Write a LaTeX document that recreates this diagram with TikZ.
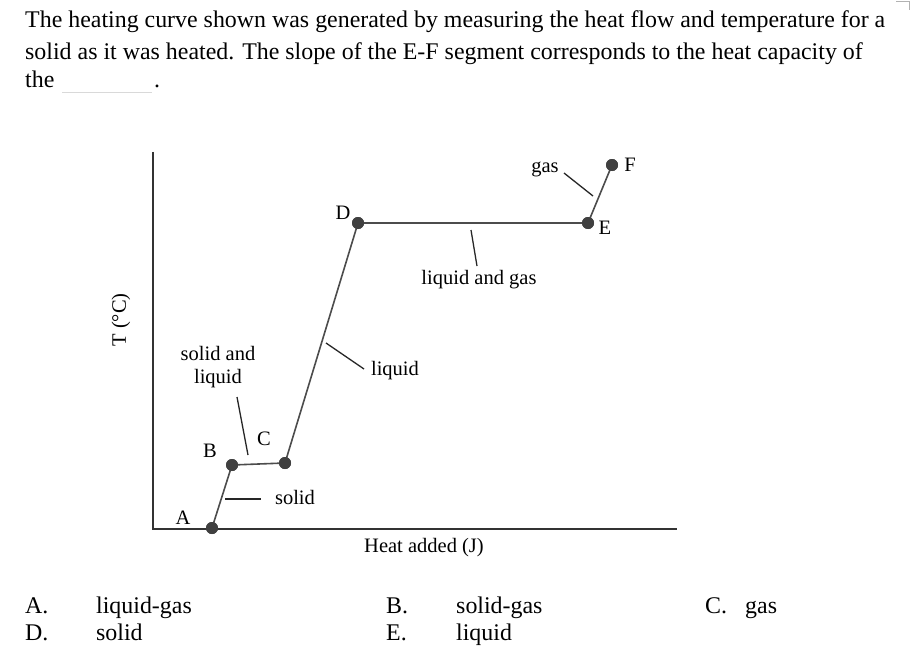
\documentclass[tikz,border=0pt]{standalone}
\usepackage{fontspec}
\setmainfont{Liberation Serif}
\begin{document}
\begin{tikzpicture}[x=1pt,y=-1pt,
  q/.style={anchor=base west,inner sep=0pt,font=\fontsize{23.9}{27}\selectfont},
  lab/.style={inner sep=0pt,font=\fontsize{20.5}{23}\selectfont,align=center},
  pt/.style={circle,fill=black!75,inner sep=0pt,minimum size=12pt},
  ax/.style={line width=1.6pt,black!80},
  seg/.style={line width=1.6pt,black!70},
  lead/.style={line width=1.3pt,black!85}]
\useasboundingbox (0,0) rectangle (910,666);
\fill[white] (0,0) rectangle (910,666);
\draw[black!30] (896,1) -- (909,1) -- (909,10);
\node[q] (l1) at (25,28) {The heating curve shown was generated by measuring the heat flow and temperature for a};
\node[q] (l2) at (25,60) {solid as it was heated. The slope of the E-F segment corresponds to the heat capacity of};
\node[q] (l3) at (25,88) {the};
\draw[black!15] (62,92) -- (152,92);
\node[q] (dot) at (154,88) {.};
% axes
\coordinate (o) at (153,529);
\coordinate (yt) at (153,152);
\coordinate (xr) at (677,529);
\draw[ax] (yt) -- (o) -- (xr);
\node[lab,rotate=90] (ty) at (121,320) {T (°C)};
\node[lab] (hx) at (424,548) {Heat added (J)};
% points
\node[pt] (A) at (212,528) {};
\node[pt] (B) at (232,465) {};
\node[pt] (C) at (285,463) {};
\node[pt] (D) at (358,223) {};
\node[pt] (E) at (588,223) {};
\node[pt] (F) at (612,165) {};
\draw[seg] (A.center) -- (B.center) -- (C.center) -- (D.center) -- (E.center) -- (F.center);
\node[pt] at (A) {};\node[pt] at (B) {};\node[pt] at (C) {};\node[pt] at (D) {};\node[pt] at (E) {};\node[pt] at (F) {};
\node[lab] (la) at (183,518) {A};
\node[lab] (lb) at (210,451) {B};
\node[lab] (lc) at (264,439) {C};
\node[lab] (ld) at (343,213) {D};
\node[lab] (le) at (605,228) {E};
\node[lab] (lf) at (630,165) {F};
% phase labels
\node[lab] (sl) at (218,367) {solid and\\liquid};
\coordinate (sl1) at (237,397); \coordinate (sl2) at (248,455);
\draw[lead] (sl1) -- (sl2);
\node[lab] (so) at (295,497) {solid};
\coordinate (so1) at (225,499); \coordinate (so2) at (261,499);
\draw[lead] (so1) -- (so2);
\node[lab] (li) at (395,371) {liquid};
\coordinate (li1) at (326,343); \coordinate (li2) at (364,369);
\draw[lead] (li1) -- (li2);
\node[lab] (lg) at (479,280) {liquid and gas};
\coordinate (lg1) at (471,230); \coordinate (lg2) at (477,266);
\draw[lead] (lg1) -- (lg2);
\node[lab] (ga) at (545,169) {gas};
\coordinate (ga1) at (564,173); \coordinate (ga2) at (593,196);
\draw[lead] (ga1) -- (ga2);
% choices
\node[q] (ca) at (25,613) {A.};
\node[q] (ta) at (96,613) {liquid-gas};
\node[q] (cb) at (386,613) {B.};
\node[q] (tb) at (456,613) {solid-gas};
\node[q] (cc) at (705,613) {C.};
\node[q] (tc) at (745,613) {gas};
\node[q] (cd) at (25,640) {D.};
\node[q] (td) at (96,640) {solid};
\node[q] (ce) at (386,640) {E.};
\node[q] (te) at (456,640) {liquid};
\end{tikzpicture}
\end{document}
